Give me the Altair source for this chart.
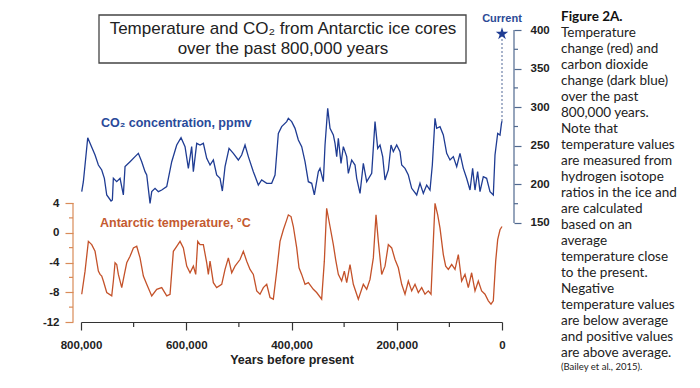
import altair as alt
import pandas as pd

# ---------------- data ----------------
co2_years = [798600, 795500, 787200, 782800, 773300, 767000, 760600, 755600, 751100, 742900,
             740400, 738500, 732100, 725800, 719500, 716300, 706800, 697300, 691000, 684600,
             678300, 675100, 668800, 665600, 659300, 653000, 646600, 637100, 627600, 618100,
             609900, 602300, 596000, 589700, 586500, 580100, 573800, 567500, 561100, 554800,
             548500, 542200, 535800, 531400, 526300, 518700, 510500, 501000, 494700, 488300,
             482000, 472500, 463000, 456700, 447100, 437700, 431300, 425000, 418700, 409100,
             406000, 399600, 393300, 387000, 380600, 374300, 368000, 361600, 356600, 349000,
             345800, 339500, 336300, 331200, 326800, 320500, 317300, 314100, 311000, 305900,
             301500, 295100, 292000, 285600, 279300, 276100, 269800, 263500, 257100, 247600,
             241300, 236200, 231800, 226700, 222300, 216000, 210900, 206500, 200100, 193800,
             190600, 184300, 178000, 171600, 162100, 155800, 149500, 143100, 136800, 132400,
             127300, 124100, 117800, 111500, 105100, 98800, 92500, 86100, 79800, 73500,
             67200, 60800, 55800, 51300, 46300, 41800, 35500, 29200, 22800, 16500,
             13300, 8200, 3800, 1000, 0]
co2_ppm = [190.6, 203.5, 260.5, 253.2, 238.1, 225.1, 218.7, 207.9, 186.3, 178.5,
           179.8, 207.9, 203.5, 207.9, 186.3, 223.0, 229.4, 236.0, 240.2, 229.4,
           216.5, 212.2, 175.5, 190.6, 194.9, 190.6, 192.7, 197.1, 229.4, 251.0,
           260.5, 248.9, 220.8, 248.9, 216.5, 253.2, 251.0, 253.2, 233.8, 225.1,
           231.6, 212.2, 207.9, 191.4, 223.0, 246.7, 240.2, 231.6, 238.1, 251.0,
           236.0, 216.5, 199.2, 205.7, 201.4, 201.4, 212.2, 266.1, 274.8, 281.3,
           285.6, 281.3, 272.6, 257.5, 248.9, 229.4, 203.5, 201.4, 186.3, 216.5,
           220.8, 203.5, 251.0, 298.5, 272.6, 264.0, 253.2, 236.0, 259.7, 227.3,
           248.9, 236.0, 214.3, 231.6, 225.1, 207.9, 188.4, 227.3, 203.5, 214.3,
           281.3, 246.7, 251.0, 236.0, 205.7, 218.7, 251.0, 242.4, 251.0, 242.4,
           225.1, 220.8, 212.2, 194.9, 186.3, 201.4, 188.4, 199.2, 192.7, 225.1,
           285.6, 272.6, 274.8, 264.0, 240.2, 231.6, 236.0, 223.0, 240.2, 220.8,
           207.9, 192.7, 220.8, 192.7, 216.5, 190.6, 210.0, 207.9, 190.6, 186.3,
           238.1, 266.1, 264.0, 279.0, 282.0]

temp_years = [798600, 792300, 786000, 779600, 773300, 767000, 763800, 760600, 757500, 751100,
              741600, 738500, 735300, 732100, 729000, 722600, 717600, 713100, 706800, 700400,
              694100, 687800, 681500, 675100, 665600, 656100, 646600, 637100, 630800, 624500,
              618100, 611800, 605500, 599100, 592800, 586500, 582000, 578200, 573800, 567500,
              561100, 558000, 554800, 548500, 542200, 532600, 526300, 520000, 513600, 507300,
              497800, 491500, 485100, 478800, 472500, 466100, 459800, 453500, 447100, 440800,
              434500, 428100, 421800, 415500, 409100, 406000, 400900, 396500, 390100, 385700,
              380700, 374300, 368000, 358500, 352200, 342700, 337600, 333200, 326800, 320500,
              316100, 311000, 304700, 299600, 295100, 288800, 282500, 273000, 263500, 257100,
              250800, 244500, 239400, 235000, 228600, 222300, 216000, 209600, 203300, 197000,
              190600, 184300, 178000, 171600, 165300, 159000, 152600, 146300, 140000, 134900,
              130500, 127300, 122200, 117800, 111500, 107000, 102000, 95600, 89300, 83000,
              76700, 70300, 64000, 57700, 51300, 45000, 38700, 32300, 26000, 20900,
              16500, 12000, 8200, 3800, 0]
temp_c = [-8.27, -5.16, -1.16, -1.60, -2.49, -5.16, -5.60, -5.82, -6.49, -8.04,
          -8.49, -6.49, -4.04, -4.27, -5.60, -7.38, -5.60, -4.04, -3.16, -2.04,
          -1.82, -3.38, -5.82, -6.93, -8.49, -7.60, -7.38, -8.49, -8.27, -2.49,
          -1.82, -1.16, -2.04, -4.49, -5.38, -4.49, -5.60, -1.16, -1.60, -1.60,
          -4.04, -5.60, -3.82, -6.71, -7.38, -6.93, -4.93, -3.38, -5.38, -4.49,
          -3.60, -2.49, -3.82, -4.93, -5.60, -7.82, -8.27, -7.38, -6.93, -8.71,
          -8.93, -5.16, -1.16, 0.40, 1.73, 2.40, 2.18, 0.84, -2.04, -4.71,
          -5.60, -6.93, -6.71, -7.60, -8.04, -8.93, -3.82, 3.29, 0.84, -1.60,
          -3.60, -5.60, -6.49, -5.16, -6.71, -4.27, -6.93, -8.93, -6.93, -7.60,
          -6.27, -3.38, 2.40, -1.16, -5.60, -4.49, -1.60, -2.04, -3.60, -4.71,
          -6.93, -8.27, -6.49, -7.82, -6.93, -8.04, -7.38, -8.27, -7.82, -8.27,
          -1.16, 3.96, 2.40, 0.62, -2.93, -4.49, -4.93, -4.27, -4.93, -2.93,
          -6.49, -5.60, -7.38, -5.38, -7.82, -6.49, -7.82, -8.27, -9.15, -9.60,
          -9.15, -3.82, -0.93, 0.40, 0.84]

current_year = [0]
current_co2 = [395]
co2_last = [282]

x_major = [0, 200000, 400000, 600000, 800000]
x_minor = [100000, 300000, 500000, 700000]
temp_major = [-12, -8, -4, 0, 4]
temp_minor = [-10, -6, -2, 2]
temp_span = [-12, 4]
co2_major = [150, 200, 250, 300, 350, 400]
co2_minor = [175, 225, 275, 325, 375]
co2_span = [150, 400]

title_lines = ["Temperature and CO\u2082 from Antarctic ice cores", "over the past 800,000 years"]
side_head = "Figure 2A."
side_lines = ["Temperature", "change (red) and", "carbon dioxide", "change (dark blue)",
              "over the past", "800,000 years.", "Note that", "temperature values",
              "are measured from", "hydrogen isotope", "ratios in the ice and",
              "are calculated", "based on an", "average", "temperature close",
              "to the present.", "Negative", "temperature values", "are below average",
              "and positive values", "are above average."]
side_cite = "(Bailey et al., 2015)."

# ---------------- styling ----------------
W, H = 421, 314
TEMP_DOMAIN = [-12, 30.22]
CO2_DOMAIN = [21.76, 428.5]
TEMP_COLOR = "#c4522a"
CO2_COLOR = "#1f3c93"
TEMP_AXIS_COLOR = "#d98b58"
CO2_AXIS_COLOR = "#50698f"
FONT = "Liberation Sans"
SIDE_FONT = "Lato"

temp_df = pd.DataFrame({"year": temp_years, "temp": temp_c})
co2_df = pd.DataFrame({"year": co2_years, "co2": co2_ppm})

xs = alt.Scale(domain=[0, 800000], reverse=True, nice=False, zero=False)
ts = alt.Scale(domain=TEMP_DOMAIN, nice=False, zero=False)
cs = alt.Scale(domain=CO2_DOMAIN, nice=False, zero=False)

x_axis = alt.Axis(values=x_major, labelExpr="format(datum.value, ',.0f')", title="Years before present",
                  grid=False, labelFont=FONT, labelFontWeight="bold", labelFontSize=11.5,
                  labelColor="#222", labelPadding=9, tickSize=8, tickColor="#333", tickWidth=1.2,
                  domainColor="#333", domainWidth=1.2, titleFont=FONT, titleFontSize=12.5,
                  titleFontWeight="bold", titleColor="#222", titlePadding=3,
                  labelFlush=False, labelOverlap=False)
t_axis = alt.Axis(orient="left", values=temp_major, labelExpr="'' + datum.value", title=None,
                  grid=False, domain=False, offset=8, tickSize=8, tickColor=TEMP_AXIS_COLOR,
                  tickWidth=1.2, labelFont=FONT, labelFontWeight="bold", labelFontSize=11.5,
                  labelColor="#222", labelPadding=6)
c_axis = alt.Axis(orient="right", values=co2_major, title=None, grid=False, domain=False,
                  offset=12, tickSize=7, tickColor=CO2_AXIS_COLOR, tickWidth=1.2,
                  labelFont=FONT, labelFontWeight="bold", labelFontSize=11.5,
                  labelColor="#222", labelPadding=9)

X = lambda: alt.X("year:Q", scale=xs, axis=x_axis)
YT = lambda: alt.Y("temp:Q", scale=ts, axis=t_axis)
YC = lambda: alt.Y("co2:Q", scale=cs, axis=c_axis)

one = pd.DataFrame({"k": [0]})

# ---- temperature group ----
temp_line = alt.Chart(temp_df).mark_line(color=TEMP_COLOR, strokeWidth=1.3).encode(x=X(), y=YT())
temp_dom = alt.Chart(pd.DataFrame({"temp": temp_span})).mark_line(
    color=TEMP_AXIS_COLOR, strokeWidth=1.2).encode(x=alt.value(-8), y=YT())
temp_min = alt.Chart(pd.DataFrame({"temp": temp_minor})).mark_rule(
    color=TEMP_AXIS_COLOR, strokeWidth=1.2).encode(x=alt.value(-12), x2=alt.value(-8), y=YT())
x_min = alt.Chart(pd.DataFrame({"year": x_minor})).mark_rule(
    color="#333", strokeWidth=1.2).encode(x=X(), y=alt.value(H), y2=alt.value(H + 5))
temp_lab = alt.Chart(one).mark_text(text="Antarctic temperature, \u00b0C", font=FONT, fontWeight="bold",
                                    fontSize=12.5, color="#c45a30", align="left", baseline="middle"
                                    ).encode(x=alt.value(19), y=alt.value(215))

box = alt.Chart(one).mark_rect(filled=False, stroke="#444", strokeWidth=1.3).encode(
    x=alt.value(18), x2=alt.value(385), y=alt.value(7), y2=alt.value(55))
title1 = alt.Chart(one).mark_text(text=title_lines[0], font=FONT, fontSize=17, color="#222",
                                  align="center", baseline="middle").encode(x=alt.value(202), y=alt.value(21))
title2 = alt.Chart(one).mark_text(text=title_lines[1], font=FONT, fontSize=17, color="#222",
                                  align="center", baseline="middle").encode(x=alt.value(202), y=alt.value(41))

side_h = alt.Chart(one).mark_text(text=side_head, font=SIDE_FONT, fontWeight="bold", fontSize=13.5,
                                  color="#111", align="left", baseline="middle").encode(
    x=alt.value(480), y=alt.value(9))
side_b = alt.Chart(one).mark_text(text="\n".join(side_lines), lineBreak="\n", lineHeight=16.0,
                                  font=SIDE_FONT, fontSize=13.5, color="#222", align="left",
                                  baseline="middle").encode(x=alt.value(480), y=alt.value(25))
side_c = alt.Chart(one).mark_text(text=side_cite, font=SIDE_FONT, fontSize=9.5, color="#222",
                                  align="left", baseline="middle").encode(x=alt.value(480), y=alt.value(359))

temp_group = alt.layer(temp_line, temp_dom, temp_min, x_min, temp_lab, box, title1, title2,
                       side_h, side_b, side_c)

# ---- CO2 group ----
co2_line = alt.Chart(co2_df).mark_line(color=CO2_COLOR, strokeWidth=1.3).encode(x=X(), y=YC())
co2_dom = alt.Chart(pd.DataFrame({"co2": co2_span})).mark_line(
    color=CO2_AXIS_COLOR, strokeWidth=1.2).encode(x=alt.value(W + 12), y=YC())
co2_min = alt.Chart(pd.DataFrame({"co2": co2_minor})).mark_rule(
    color=CO2_AXIS_COLOR, strokeWidth=1.2).encode(x=alt.value(W + 12), x2=alt.value(W + 16), y=YC())
dotted = alt.Chart(pd.DataFrame({"year": current_year * 2, "co2": co2_last + current_co2})).mark_line(
    color="#6f82aa", strokeWidth=1.2, strokeDash=[2, 2]).encode(x=X(), y=YC())
STAR = ("M0,-1L0.2245,-0.309L0.951,-0.309L0.363,0.118L0.588,0.809L0,0.382"
        "L-0.588,0.809L-0.363,0.118L-0.951,-0.309L-0.2245,-0.309Z")
cur_df = pd.DataFrame({"year": current_year, "co2": current_co2})
star = alt.Chart(cur_df).mark_point(shape=STAR, filled=True, size=170, color=CO2_COLOR, opacity=1).encode(
    x=X(), y=YC())
cur_lab = alt.Chart(cur_df).mark_text(text="Current", font=FONT, fontWeight="bold", fontSize=11,
                                      color="#2c4a96", dy=-15, baseline="middle").encode(x=X(), y=YC())
co2_lab = alt.Chart(one).mark_text(text="CO\u2082 concentration, ppmv", font=FONT, fontWeight="bold",
                                   fontSize=12.5, color="#2a4a9a", align="left", baseline="middle"
                                   ).encode(x=alt.value(20), y=alt.value(115))

co2_group = alt.layer(co2_line, co2_dom, co2_min, dotted, star, cur_lab, co2_lab)

chart = alt.layer(temp_group, co2_group).resolve_scale(y="independent").properties(
    width=W, height=H,
    autosize=alt.AutoSizeParams(type="none"),
    padding={"left": 73, "top": 0, "right": 186, "bottom": 52},
).configure_view(stroke=None)

chart.save("out.html", embed_options={"renderer": "svg", "actions": False})
